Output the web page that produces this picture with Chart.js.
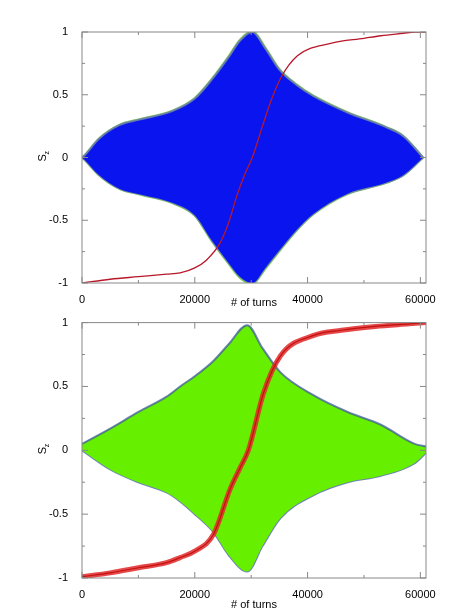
<!DOCTYPE html>
<html>
<head>
<meta charset="utf-8">
<script src="https://cdn.jsdelivr.net/npm/chart.js@4"></script>
<style>
body { margin: 0; background: #fff; }
#c1, #c2 { position: absolute; left: 0; }
#c1 { top: 0; }
#c2 { top: 310px; }
</style>
</head>
<body>
<canvas id="c1" width="474" height="310"></canvas>
<canvas id="c2" width="474" height="302"></canvas>
<script>
// envelope of the oscillating S_z
var topEnvX   = [0, 500, 3000, 6700, 10000, 16000, 20000, 23000, 26000, 28000, 30200, 32500, 35000, 38000, 41000, 47000, 54000, 57000, 60500];
var topUpper  = [0, 0.02, 0.15, 0.26, 0.30, 0.37, 0.47, 0.62, 0.80, 0.93, 1.0, 0.87, 0.70, 0.58, 0.49, 0.36, 0.24, 0.17, 0];
var topLower  = [0, -0.02, -0.14, -0.25, -0.29, -0.36, -0.46, -0.66, -0.84, -0.95, -1.0, -0.88, -0.74, -0.58, -0.45, -0.29, -0.2, -0.14, 0];
var topRedX   = [0, 5000, 10000, 15000, 17400, 20000, 22000, 24500, 26000, 27500, 29000, 30200, 32000, 33500, 35200, 38200, 44100, 50000, 53000, 57000, 59000, 61000];
var topRedY   = [-1, -0.97, -0.95, -0.93, -0.92, -0.88, -0.82, -0.68, -0.52, -0.3, -0.12, 0, 0.25, 0.45, 0.63, 0.81, 0.91, 0.95, 0.97, 0.99, 1.0, 1.0];

var botEnvX   = [0, 5000, 10000, 15000, 17400, 20000, 23300, 26000, 29300, 32000, 35200, 41100, 47100, 53000, 59000, 61000];
var botUpper  = [0.05, 0.17, 0.3, 0.42, 0.5, 0.58, 0.7, 0.83, 0.98, 0.8, 0.61, 0.43, 0.3, 0.2, 0.05, 0.03];
var botLower  = [0, -0.15, -0.25, -0.33, -0.4, -0.5, -0.64, -0.82, -0.95, -0.75, -0.53, -0.35, -0.25, -0.2, -0.1, -0.02];
var botRedX   = [0, 5000, 10000, 15000, 17400, 20000, 23300, 26300, 28000, 29500, 32200, 35200, 41100, 46000, 52000, 58000, 61000];
var botRedY   = [-0.99, -0.96, -0.92, -0.88, -0.84, -0.79, -0.66, -0.3, -0.14, 0, 0.45, 0.74, 0.9, 0.94, 0.97, 0.99, 1.0];

var xTicks = [0, 20000, 40000, 60000];
var yTicks = [-1, -0.5, 0, 0.5, 1];

function pts(xs, ys) { return xs.map(function (x, i) { return { x: x, y: ys[i] }; }); }

var font = { family: 'Liberation Sans', size: 11 };

var frame = {
   id: 'frame',
   afterDraw: function (chart) {
      var a = chart.chartArea, ctx = chart.ctx;
      ctx.save();
      ctx.strokeStyle = '#888';
      ctx.lineWidth = 1;
      ctx.strokeRect(a.left, a.top, a.right - a.left, a.bottom - a.top);
      // inner ticks on all four sides
      var xs = chart.scales.x, ys = chart.scales.y;
      ctx.beginPath();
      for (var v = 0; v <= 60000; v += 10000) {
         var px = xs.getPixelForValue(v);
         var l = v % 20000 === 0 ? 6 : 3;
         ctx.moveTo(px, a.bottom); ctx.lineTo(px, a.bottom - l);
         ctx.moveTo(px, a.top); ctx.lineTo(px, a.top + l);
      }
      for (var w = -1; w <= 1.001; w += 0.25) {
         var py = ys.getPixelForValue(w);
         var m = Math.abs(w * 2 - Math.round(w * 2)) < 0.01 ? 6 : 3;
         ctx.moveTo(a.left, py); ctx.lineTo(a.left + m, py);
         ctx.moveTo(a.right, py); ctx.lineTo(a.right - m, py);
      }
      ctx.stroke();
      // y label S with subscript z
      ctx.fillStyle = '#000';
      ctx.translate(46, (a.top + a.bottom) / 2);
      ctx.rotate(-Math.PI / 2);
      ctx.font = '11px Liberation Sans';
      ctx.fillText('S', -4, 0);
      ctx.font = '7px Liberation Sans';
      ctx.fillText('z', 3, 3);
      ctx.restore();
   }
};

function makeChart(id, cfg) {
   return new Chart(id, {
      type: 'scatter',
      data: { datasets: cfg.datasets },
      options: {
         responsive: false,
         animation: false,
         layout: { padding: { top: cfg.top, right: 48, left: 0, bottom: 0 } },
         plugins: { legend: { display: false }, tooltip: { enabled: false } },
         elements: { point: { radius: 0 }, line: { cubicInterpolationMode: 'monotone' } },
         scales: {
            x: {
               type: 'linear', min: 0, max: 61000,
               afterBuildTicks: function (s) { s.ticks = xTicks.map(function (v) { return { value: v }; }); },
               afterFit: function (s) { s.height = cfg.xh; },
               grid: { display: false },
               border: { display: false },
               ticks: { color: '#000', font: font, padding: 2, maxRotation: 0, callback: function (v) { return String(v); } },
               title: { display: cfg.xtitle, text: '# of turns', color: '#000', font: font, padding: 0 }
            },
            y: {
               min: -1, max: 1,
               afterBuildTicks: function (s) { s.ticks = yTicks.map(function (v) { return { value: v }; }); },
               afterFit: function (s) { s.width = 82; },
               grid: { display: false },
               border: { display: false },
               ticks: { color: '#000', font: font, padding: 6, callback: function (v) { return String(v); } }
            }
         }
      },
      plugins: [frame]
   });
}

// order: higher numbers are drawn first (further back)
function env(xs, up, lo, fillCol, edgeCol, edgeW, order) {
   return [
      { type: 'line', order: order, data: pts(xs, up), showLine: true, borderColor: edgeCol, borderWidth: edgeW, backgroundColor: fillCol, fill: '+1' },
      { type: 'line', order: order, data: pts(xs, lo), showLine: true, borderColor: edgeCol, borderWidth: edgeW, fill: false }
   ];
}

var topSets = []
   .concat(env(topEnvX, topUpper.map(function (v) { return v * 1.01; }), topLower.map(function (v) { return v * 1.01; }), '#66ee22', '#8fd860', 2, 3))
   .concat(env(topEnvX, topUpper, topLower, '#0a14ee', 'rgba(110,130,170,0.9)', 2, 2))
   .concat([{ type: 'line', order: 0, data: pts(topRedX, topRedY), showLine: true, borderColor: '#b8182a', borderWidth: 1.3, fill: false }]);

var botSets = []
   .concat(env(botEnvX, botUpper, botLower, '#66f000', 'rgba(60,90,150,0.75)', 2, 3))
   .concat([{ type: 'line', order: 1, data: pts(botRedX, botRedY), showLine: true, borderColor: 'rgba(225,40,40,0.85)', borderWidth: 5, fill: false },
            { type: 'line', order: 0, data: pts(botRedX, botRedY), showLine: true, borderColor: '#c41010', borderWidth: 1.2, fill: false }]);

makeChart('c1', { datasets: topSets, top: 32, xh: 27, xtitle: true });
makeChart('c2', { datasets: botSets, top: 12, xh: 34, xtitle: true });
</script>
</body>
</html>
